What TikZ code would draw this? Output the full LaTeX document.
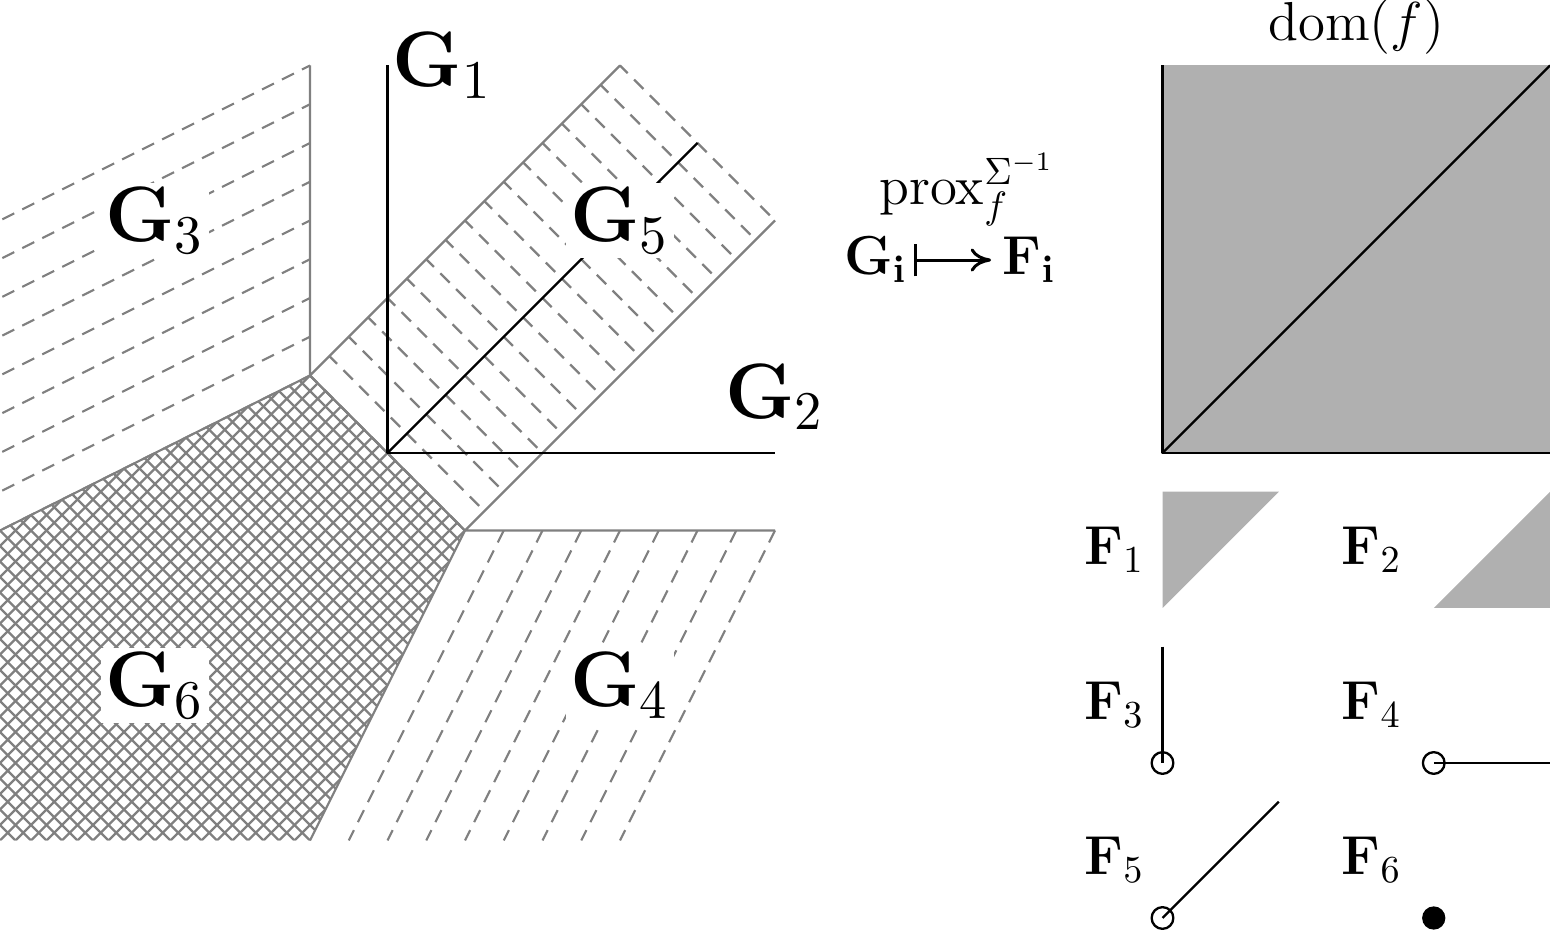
\documentclass[tikz,border=0pt]{standalone}
\usetikzlibrary{arrows.meta}
\definecolor{domgray}{gray}{0.69}
\tikzset{
	edgeline/.style={gray,line width=.8pt},
	dashline/.style={gray,line width=.8pt,dash pattern=on 4.9pt off 3.3pt},
	hatchline/.style={gray,line width=.8pt},
	blackline/.style={black,line width=.85pt},
	glabel/.style={fill=white,font=\Large,scale=2,inner xsep=.8pt,inner ysep=.95pt},
	flabel/.style={font=\Large,scale=1.4,inner sep=0pt}
}
\begin{document}
\begin{tikzpicture}[line join=round]
	\useasboundingbox (-5,-6.155) rectangle (15,5.845);
	\begin{scope}
		\clip (-5,-1)--(-1,1)--(1,-1)--(-1,-5)--(-5,-5)--cycle;
		\foreach \k in {0,...,50} \draw[hatchline] (-6,{6-\k/5})--(2,{-2-\k/5});
		\foreach \k in {-20,...,20} \draw[hatchline] (-6,{\k/5-6})--(2,{\k/5+2});
	\end{scope}
	\foreach \k in {0,...,8} \draw[dashline,dash phase=1.6pt] (-1,{5-\k/2})--(-5,{3-\k/2});
	\foreach \k in {0,...,16} \draw[dashline,dash phase=.9pt] ({3-\k/4},{5-\k/4})--({5-\k/4},{3-\k/4});
	\foreach \k in {1,...,8} \draw[dashline] ({1+\k/2},-1)--({\k/2-1},-5);
	\draw[edgeline] (-1,5)--(-1,1)--(3,5);
	\draw[edgeline] (-5,-1)--(-1,1)--(1,-1)--(-1,-5);
	\draw[edgeline] (5,3)--(1,-1)--(5,-1);
	\draw[blackline] (0,5)--(0,0)--(5,0);
	\draw[blackline] (0,0)--(4,4);
	\node[glabel,anchor=west] (G1) at (0,5) {$\mathbf{G}_1$};
	\node[glabel] (G2) at (5,.72) {$\mathbf{G}_2$};
	\node[glabel] (G3) at (-3,3) {$\mathbf{G}_3$};
	\node[glabel] (G4) at (3,-3) {$\mathbf{G}_4$};
	\node[glabel] (G5) at (3,3) {$\mathbf{G}_5$};
	\node[glabel] (G6) at (-3,-3) {$\mathbf{G}_6$};
	\node[flabel] (prox) at (7.48,3.4) {$\mathrm{prox}_f^{\Sigma^{-1}}$};
	\node[flabel] (Gi) at (6.3,2.49) {$\mathbf{G_i}$};
	\node[flabel] (Fi) at (8.28,2.49) {$\mathbf{F_i}$};
	\draw[{Bar[width=12pt]}-{Computer Modern Rightarrow[length=7.5pt,width=8.5pt]},line width=1.1pt,shorten <=2.2pt,shorten >=4pt] (Gi)--(Fi);
	\fill[domgray] (10,0) rectangle (15,5);
	\draw[blackline] (10,5)--(10,0)--(15,0);
	\draw[blackline] (10,0)--(15,5);
	\node[flabel] (dom) at (12.5,5.5) {$\mathrm{dom}(f)$};
	\fill[domgray] (10,-.5)--(11.5,-.5)--(10,-2)--cycle;
	\fill[domgray] (13.5,-2)--(15,-2)--(15,-.5)--cycle;
	\draw[blackline] (10,-2.5)--(10,-4);
	\draw[blackline] (10,-4) circle(.14);
	\draw[blackline] (13.5,-4)--(15,-4);
	\draw[blackline] (13.5,-4) circle(.14);
	\draw[blackline] (10,-6)--(11.5,-4.5);
	\draw[blackline] (10,-6) circle(.14);
	\fill (13.5,-6) circle(.15);
	\foreach \i/\x/\y in {1/9.38/-1.25,2/12.7/-1.25,3/9.38/-3.25,4/12.7/-3.25,5/9.38/-5.25,6/12.7/-5.25}
		\node[flabel] (F\i) at (\x,\y) {$\mathbf{F}_\i$};
\end{tikzpicture}
\end{document}
